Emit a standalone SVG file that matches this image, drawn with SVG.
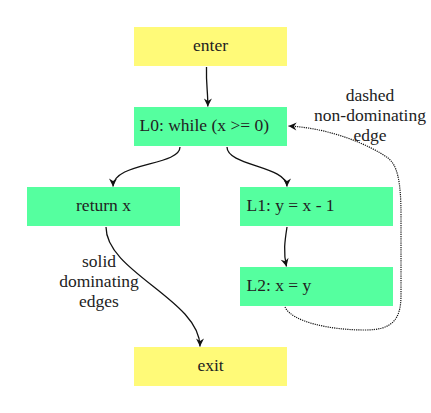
<svg xmlns="http://www.w3.org/2000/svg" width="431" height="413" viewBox="0 0 431 413">
<style>
text{font-family:'Liberation Serif','Times New Roman',serif;font-size:17.5px;fill:#222}
.y{fill:#fffa78}
.g{fill:#55ff9f}
.e{fill:none;stroke:#111;stroke-width:1.3}
.d{fill:none;stroke:#111;stroke-width:1.2;stroke-dasharray:1.2 1}
</style>
<defs>
<marker id="ah" markerUnits="userSpaceOnUse" markerWidth="12" markerHeight="12" viewBox="-10 -6 12 12" refX="0" refY="0" orient="auto">
<path d="M0,0 L-8,-4 L-5.5,0 L-8,4 Z" fill="#111"/>
</marker>
</defs>
<rect width="431" height="413" fill="#fff"/>
<g id="enter"><rect class="y" x="134" y="27" width="153" height="39"/><text font-family="Liberation Serif, serif" x="210.5" y="51" text-anchor="middle">enter</text></g>
<g id="L0"><rect class="g" x="134" y="107" width="153" height="39"/><text font-family="Liberation Serif, serif" x="139.5" y="131">L0: while (x &gt;= 0)</text></g>
<g id="ret"><rect class="g" x="27" y="187" width="153" height="39"/><text font-family="Liberation Serif, serif" x="103.5" y="211" text-anchor="middle">return x</text></g>
<g id="L1"><rect class="g" x="240" y="187" width="153" height="39"/><text font-family="Liberation Serif, serif" x="246.5" y="211">L1: y = x - 1</text></g>
<g id="L2"><rect class="g" x="240" y="267" width="153" height="39"/><text font-family="Liberation Serif, serif" x="246.5" y="291">L2: x = y</text></g>
<g id="exit"><rect class="y" x="134" y="347" width="153" height="39"/><text font-family="Liberation Serif, serif" x="210.5" y="371" text-anchor="middle">exit</text></g>
<g id="connectors">
<path class="e" marker-end="url(#ah)" d="M206.5,67 C206,85 208,92 207.8,106.5"/>
<path class="e" marker-end="url(#ah)" d="M180,147 C180,166 113,162 113,186.5"/>
<path class="e" marker-end="url(#ah)" d="M227,147 C227,166 287,166 287,186.5"/>
<path class="e" marker-end="url(#ah)" d="M287,227 C285,240 283,252 286.5,266.5"/>
<path class="e" marker-end="url(#ah)" d="M106,227 C106,272 200,300 200,346.5"/>
<path class="d" marker-end="url(#ah)" d="M285,307 C292,322 330,330 365,330 C392,330 401,320 401,295 L401,215 C401,180 397,165 388,158 C370,145 330,128 288.5,126"/>
</g>
<g id="labels" font-family="Liberation Serif, serif">
<text x="99" y="267" text-anchor="middle">solid</text>
<text x="99" y="287" text-anchor="middle">dominating</text>
<text x="99" y="307" text-anchor="middle">edges</text>
<text x="370" y="101" text-anchor="middle">dashed</text>
<text x="370" y="121" text-anchor="middle">non-dominating</text>
<text x="370" y="141" text-anchor="middle">edge</text>
</g>
</svg>
